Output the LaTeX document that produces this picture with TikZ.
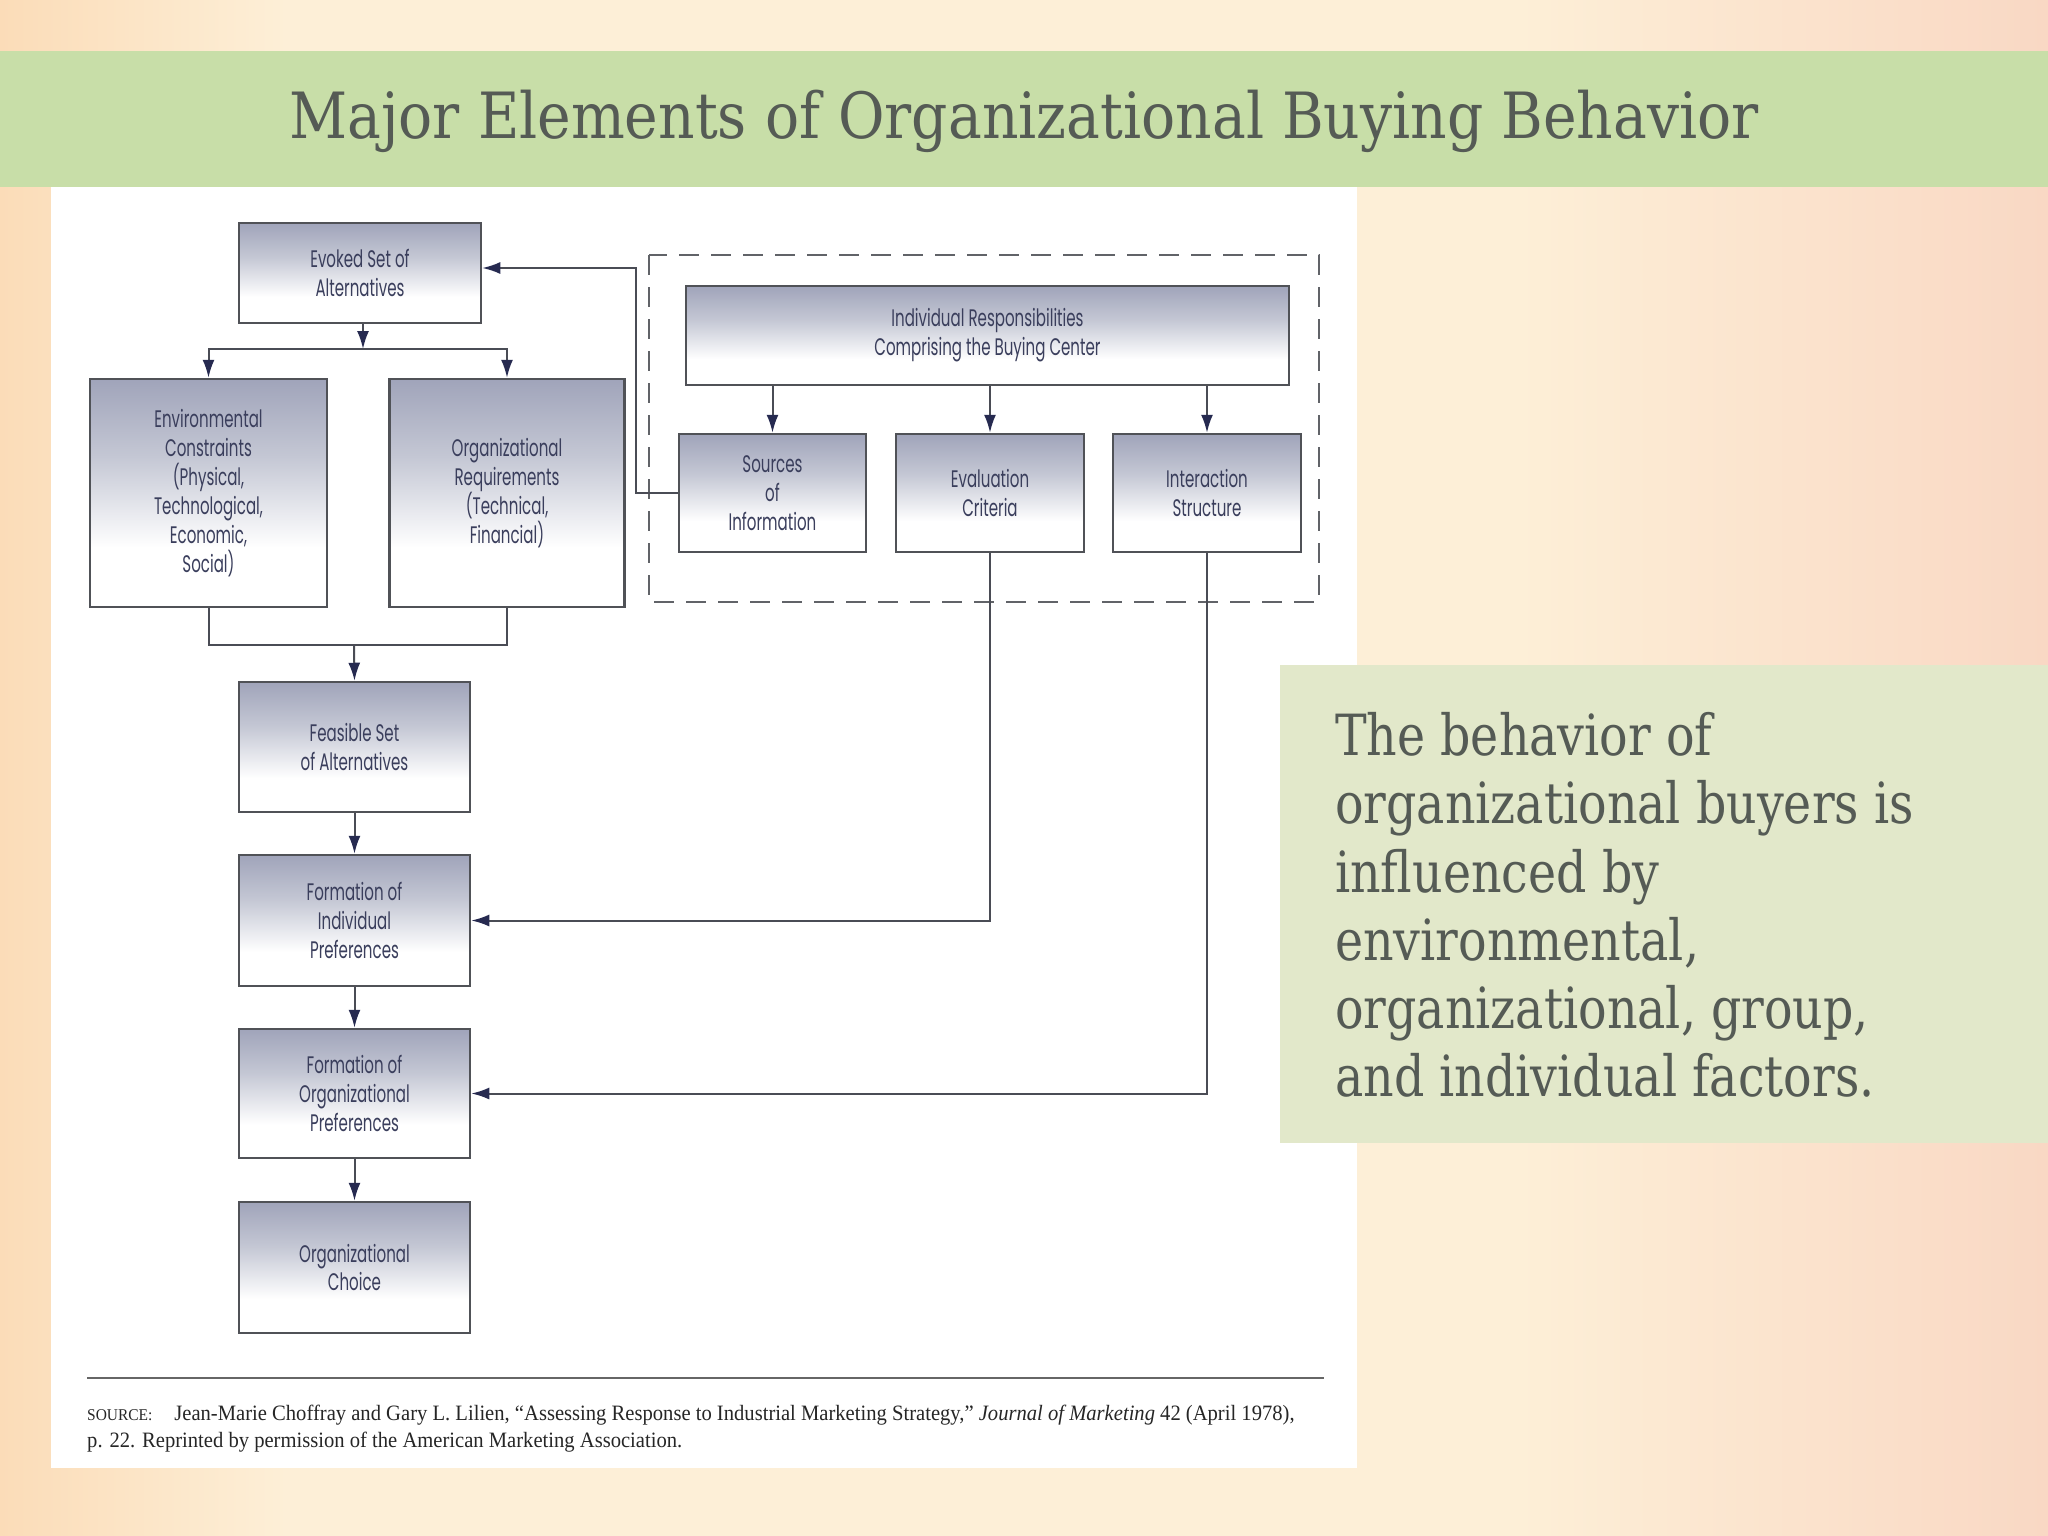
\documentclass[tikz,border=0pt]{standalone}
\usepackage{fontspec}
\setmainfont{DejaVu Serif}
\newfontfamily\titlefont[FakeStretch=0.89]{DejaVu Serif}
\newfontfamily\sidefont[FakeStretch=0.836]{DejaVu Serif}
\newfontfamily\boxfont[FakeStretch=0.63]{Poppins}
\newfontfamily\srcfont[FakeStretch=0.94]{Liberation Serif}
\usetikzlibrary{arrows.meta}
\definecolor{bgL}{HTML}{FBDCB8}
\definecolor{bgC}{HTML}{FDEFD7}
\definecolor{bgR}{HTML}{F9D8C4}
\definecolor{band}{HTML}{C8DEA8}
\definecolor{sidebox}{HTML}{E2E8CA}
\definecolor{slidetext}{HTML}{555B55}
\definecolor{boxtop}{HTML}{A0A4BA}
\definecolor{boxmid}{HTML}{C4C7D4}
\definecolor{boxline}{HTML}{505257}
\definecolor{boxtext}{HTML}{3A3E5C}
\definecolor{linec}{HTML}{4A4C55}
\definecolor{arrowc}{HTML}{262A50}
\pgfdeclareverticalshading{boxshade}{100bp}{color(0bp)=(white); color(25bp)=(white); color(38bp)=(white); color(58bp)=(boxmid); color(75bp)=(boxtop); color(100bp)=(boxtop)}
\pgfdeclarehorizontalshading{bgshade}{100bp}{color(0bp)=(bgL); color(25bp)=(bgL); color(32bp)=(bgC); color(62bp)=(bgC); color(75bp)=(bgR); color(100bp)=(bgR)}
\tikzset{
  fbox/.style={draw=boxline, line width=2.5bp, shade, shading=boxshade, inner sep=0pt,
    align=center, text=boxtext, font=\boxfont\fontsize{24}{29}\selectfont},
  conn/.style={draw=linec, line width=2bp},
  arr/.style={conn, -{Latex[length=18bp,width=12bp,color=arrowc]}},
  dashbox/.style={draw=boxline!90, line width=2.5bp, dash pattern=on 20bp off 12bp}
}
\begin{document}
\begin{tikzpicture}[x=1bp,y=-1bp]
\useasboundingbox (0,0) rectangle (2048,1536);
% background
\shade[shading=bgshade] (0,0) rectangle (2048,1536);
\fill[band] (0,51) rectangle (2048,187);
\node[font=\titlefont\fontsize{64}{70}\selectfont, text=slidetext] (title) at (1024,121) {Major Elements of Organizational Buying Behavior};
% white panel
\fill[white] (51,187) rectangle (1357,1468);
% side text box
\fill[sidebox] (1280,665) rectangle (2048,1143);
\node[anchor=west, inner sep=0pt, align=left, text=slidetext, font=\sidefont\fontsize{57}{68.5}\selectfont] (side) at (1335,905)
 {The behavior of\\organizational buyers is\\influenced by\\environmental,\\organizational, group,\\and individual factors.};
% dashed group
\draw[dashbox] (649,255) rectangle (1319,602);
% boxes
\node[fbox, minimum width=242bp, minimum height=100bp] (evoked) at (360,273) {Evoked Set of\\Alternatives};
\node[fbox, minimum width=237bp, minimum height=228bp] (env) at (208.5,493) {Environmental\\Constraints\\(Physical,\\Technological,\\Economic,\\Social)};
\node[fbox, minimum width=235bp, minimum height=228bp] (orgreq) at (507,493) {Organizational\\Requirements\\(Technical,\\Financial)};
\node[fbox, minimum width=603bp, minimum height=99bp] (indresp) at (987.5,335.5) {Individual Responsibilities\\Comprising the Buying Center};
\node[fbox, minimum width=187bp, minimum height=118bp] (sources) at (772.5,493) {Sources\\of\\Information};
\node[fbox, minimum width=188bp, minimum height=118bp] (evalc) at (990,493) {Evaluation\\Criteria};
\node[fbox, minimum width=188bp, minimum height=118bp] (inter) at (1207,493) {Interaction\\Structure};
\node[fbox, minimum width=231bp, minimum height=130bp] (feasible) at (354.5,747) {Feasible Set\\of Alternatives};
\node[fbox, minimum width=231bp, minimum height=131bp] (formind) at (354.5,920.5) {Formation of\\Individual\\Preferences};
\node[fbox, minimum width=231bp, minimum height=129bp] (formorg) at (354.5,1093.5) {Formation of\\Organizational\\Preferences};
\node[fbox, minimum width=231bp, minimum height=131bp] (choice) at (354.5,1267.5) {Organizational\\Choice};
% connectors
\coordinate (split) at (363,349);
\coordinate (join) at (354,645);
\coordinate (fbtop) at (636,268);
\draw[arr] (evoked.south -| split) -- (split);
\draw[arr] (split) -| (env.north);
\draw[arr] (split) -| (orgreq.north);
\draw[conn] (env.south) |- (join) -| (orgreq.south);
\draw[arr] (join) -- (feasible.north);
\draw[arr] (feasible) -- (formind);
\draw[arr] (formind) -- (formorg);
\draw[arr] (formorg) -- (choice);
\draw[arr] (indresp.south -| sources) -- (sources.north);
\draw[arr] (indresp.south -| evalc) -- (evalc.north);
\draw[arr] (indresp.south -| inter) -- (inter.north);
\draw[arr] (sources.west) -| (fbtop) -- (fbtop -| evoked.east);
\draw[arr] (evalc.south) |- (formind.east);
\draw[arr] (inter.south) |- (formorg.east);
% source rule and note
\draw[draw=black!60, line width=2.5bp] (87,1378) -- (1324,1378);
\node[anchor=north west, inner sep=0pt, align=left, text=black!85, font=\srcfont\fontsize{22}{27}\selectfont] (note) at (87,1405)
 {{\fontsize{16.5}{27}\selectfont SOURCE:}\quad Jean-Marie Choffray and Gary L. Lilien, “Assessing Response to Industrial Marketing Strategy,” \textit{Journal of Marketing} 42 (April 1978),\\p. 22. Reprinted by permission of the American Marketing Association.};
\end{tikzpicture}
\end{document}
